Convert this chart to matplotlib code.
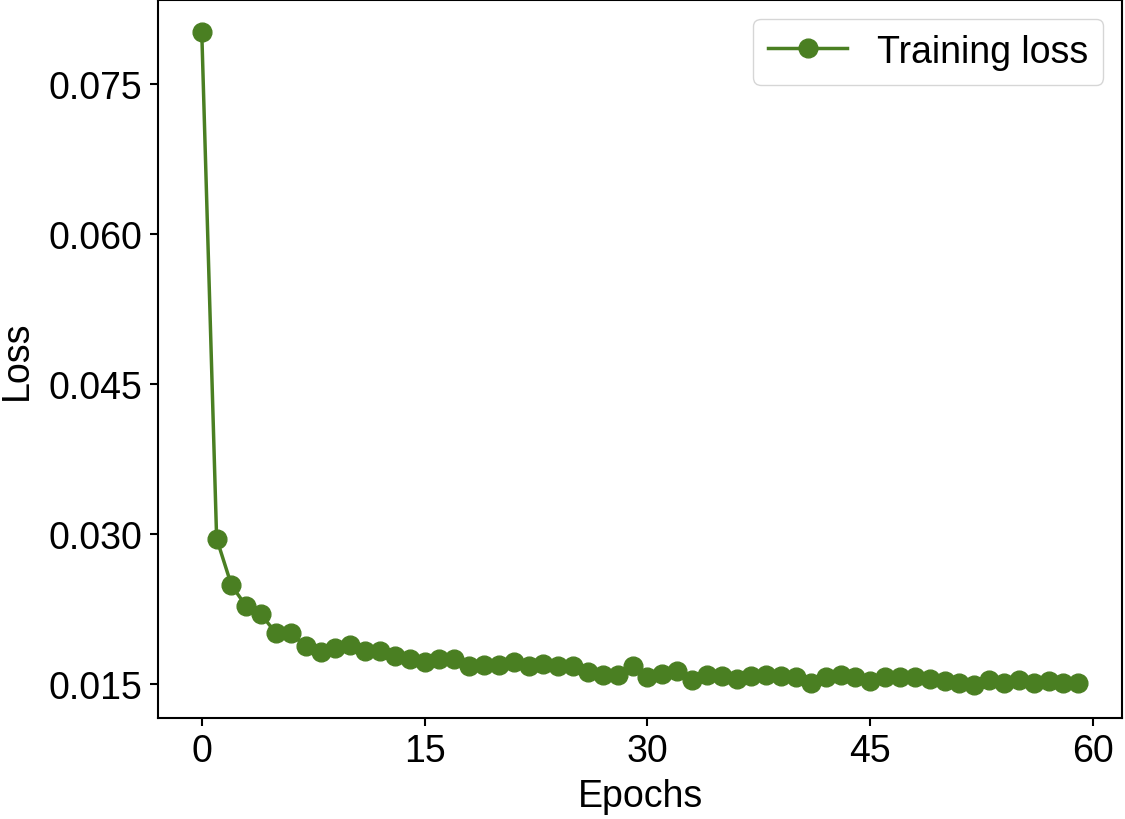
import matplotlib.pyplot as plt

plt.rcParams['font.family'] = ['Liberation Sans', 'DejaVu Sans']

epochs = list(range(60))
train_loss = [0.0801, 0.02957, 0.0249, 0.0228, 0.0220, 0.0201, 0.0201, 0.0188, 0.0182, 0.0186,
              0.0189, 0.0183, 0.0183, 0.0178, 0.0175, 0.0172, 0.0175, 0.0175, 0.0168, 0.0169,
              0.0169, 0.0172, 0.0168, 0.0170, 0.0168, 0.0168, 0.0162, 0.0159, 0.0159, 0.0168,
              0.0157, 0.0160, 0.0163, 0.0154, 0.0159, 0.0158, 0.0155, 0.0158, 0.0159, 0.0158,
              0.0157, 0.0151, 0.0157, 0.0159, 0.0157, 0.0153, 0.0157, 0.0157, 0.0157, 0.0155,
              0.0153, 0.0151, 0.0149, 0.0154, 0.0151, 0.0154, 0.0151, 0.0153, 0.0151, 0.0151]
xticks = [0, 15, 30, 45, 60]
yticks = [0.015, 0.030, 0.045, 0.060, 0.075]

fig = plt.figure(figsize=(11.25, 8.2), dpi=100)
ax = fig.add_axes([0.1404, 0.123, 0.857, 0.876])
ax.plot(epochs, train_loss, color='#4a7f22', marker='o', markersize=13.5, linewidth=2.5,
        label='Training loss')
ax.set_xticks(xticks)
ax.set_yticks(yticks)
ax.set_yticklabels(['%.3f' % v for v in yticks])
ax.tick_params(labelsize=27, length=6, width=1.5, pad=5)
for s in ax.spines.values():
    s.set_linewidth(1.5)
ax.set_xlabel('Epochs', fontsize=27, labelpad=6)
ax.set_ylabel('Loss', fontsize=27, labelpad=10)
ax.legend(loc='upper right', fontsize=27, handlelength=2.1, handletextpad=0.8,
          borderaxespad=0.5)
fig.savefig('out.png', dpi=100)
